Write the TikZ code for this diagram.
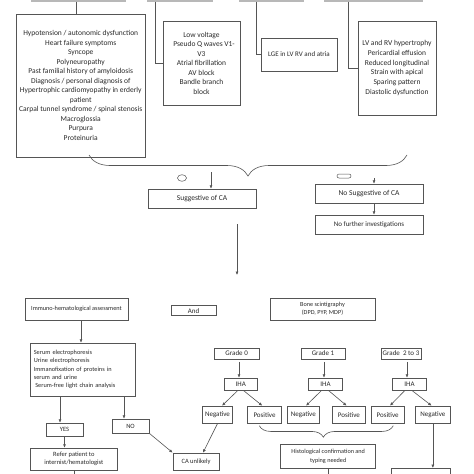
\documentclass[tikz,border=0pt]{standalone}
\usepackage{fontspec}
\setmainfont{Carlito}
\usetikzlibrary{arrows.meta,decorations.pathreplacing,calc}
\definecolor{boxgray}{HTML}{555555}
\definecolor{txtgray}{HTML}{2A2A2A}
\definecolor{topgray}{HTML}{B8B8B8}
\newcommand{\fsz}[2]{\fontsize{#1}{#2}\selectfont}
\begin{document}
\begin{tikzpicture}[x=1pt,y=-1pt,
  box/.style={draw=boxgray,line width=0.6pt,inner sep=0pt,align=center,text=txtgray},
  topbox/.style={draw=topgray,line width=1.2pt,inner sep=0pt},
  conn/.style={draw=boxgray,line width=0.6pt},
  arr/.style={conn,-{Latex[length=3.4pt,width=3pt]}},
  brc/.style={draw=boxgray,line width=0.6pt,decorate}]
\useasboundingbox (0,0) rectangle (474,474);
\clip (0,0) rectangle (474,474);
\fill[white] (0,0) rectangle (474,474);

% top boxes (cut off)
\node[topbox,minimum width=93pt,minimum height=21pt] (top1) at (78.5,-9.5) {};
\node[topbox,minimum width=64pt,minimum height=21pt] (top2) at (180,-9.5) {};
\node[topbox,minimum width=63pt,minimum height=21pt] (top3) at (271.5,-9.5) {};
\node[topbox,minimum width=97pt,minimum height=21pt] (top4) at (373.5,-9.5) {};

% clinical box
\node[box,minimum width=129.5pt,minimum height=143pt,font=\fsz{7.5}{9.5}] (big) at (80.75,85.5)
{Hypotension / autonomic dysfunction\\Heart failure symptoms\\Syncope\\Polyneuropathy\\Past familial history of amyloidosis\\Diagnosis / personal diagnosis of\\Hypertrophic cardiomyopathy in erderly\\patient\\Carpal tunnel syndrome / spinal stenosis\\Macroglossia\\Purpura\\Proteinuria};
% ECG box
\node[box,minimum width=77pt,minimum height=84pt,font=\fsz{7.5}{9.5}] (ecg) at (201.5,63)
{Low voltage\\\hspace*{5pt}Pseudo Q waves V1-\\V3\\Atrial fibrillation\\AV block\\Bandle branch\\block};
% LGE box
\node[box,minimum width=76pt,minimum height=33pt,font=\fsz{7}{8}] (lge) at (299,54.5) {LGE in LV RV and atria};
% Echo box
\node[box,minimum width=78pt,minimum height=94pt,font=\fsz{7.5}{9.7}] (echo) at (397,68)
{LV and RV hypertrophy\\Pericardial effusion\\Reduced longitudinal\\Strain with apical\\Sparing pattern\\Diastolic dysfunction};

\draw[conn] (76,0 |- top1.south) -- (76,0 |- big.north);
\draw[conn] (155,0 |- top2.south) |- (ecg.west);
\draw[conn] (256,0 |- top3.south) |- (lge.west);
\draw[conn] (348,0 |- top4.south) |- (echo.west);

% brace
\coordinate (br1a) at (89,155);
\coordinate (br1b) at (407,155);
\draw[brc,decoration={brace,mirror,amplitude=21pt,aspect=0.5}] (br1a) -- (br1b);

% stray shapes
\draw[boxgray,line width=0.5pt] (182,178) ellipse (4.5pt and 3.3pt);
\draw[boxgray,line width=0.5pt,rounded corners=2pt] (337,174) rectangle (351,178);

\node[box,minimum width=108pt,minimum height=19pt,font=\fsz{7.5}{8}] (sug) at (202,198.5) {Suggestive of CA};
\node[box,minimum width=108pt,minimum height=19pt,font=\fsz{7.5}{8}] (nosug) at (369,193.5) {No Suggestive of CA};
\node[box,minimum width=108pt,minimum height=19pt,font=\fsz{7}{8}] (nofur) at (369,224.5) {No further investigations};

\coordinate (s1) at (211,172);
\coordinate (s2) at (374,178);
\draw[arr] (s1) -- (s1 |- sug.north);
\draw[arr] (s2) -- (s2 |- nosug.north);
\draw[arr] (374,0 |- nosug.south) -- (374,0 |- nofur.north);

\coordinate (la1) at (237,224);
\coordinate (la2) at (237,275);
\draw[arr] (la1) -- (la2);

% second part
\node[box,minimum width=103pt,minimum height=22pt,font=\fsz{6.3}{7}] (immuno) at (76.5,309) {Immuno-hematological assessment};
\node[box,minimum width=45pt,minimum height=10pt,font=\fsz{7}{7}] (and) at (193.5,310.7) {And};
\node[box,minimum width=105pt,minimum height=22pt,font=\fsz{6.2}{8}] (bone) at (322.5,309) {Bone scintigraphy\\(DPD, PYP, MDP)};

\node[box,minimum width=105.7pt,minimum height=53pt,font=\fsz{6.3}{8.2},align=left,text width=98pt] (serum) at (82.85,369.5)
{Serum electrophoresis\\Urine electrophoresis\\Immanofixation of proteins in\\serum and urine\\\hspace*{1.5pt}Serum-free light chain analysis\\[2pt]};
\draw[arr] (81,0 |- immuno.south) -- (81,0 |- serum.north);

\node[box,minimum width=37pt,minimum height=13pt,font=\fsz{6.5}{7}] (yes) at (64.5,429.5) {YES};
\node[box,minimum width=37pt,minimum height=14pt,font=\fsz{6.5}{7}] (no) at (130.5,426) {NO};
\draw[arr] (60,0 |- serum.south) -- (60,0 |- yes.north);
\draw[arr] (124,0 |- serum.south) -- (124,0 |- no.north);

\node[box,minimum width=86.3pt,minimum height=22pt,font=\fsz{6.5}{7.8}] (refer) at (73.85,459) {Refer patient to\\internist/hematologist};
\draw[arr] (yes.south) -- (yes.south |- refer.north);
\coordinate (rb) at (73.85,480);
\draw[conn] (refer.south) -- (rb);

\node[box,minimum width=46pt,minimum height=17pt,font=\fsz{6.5}{7}] (caun) at (196,461.5) {CA unlikely};
\draw[arr] (no.south east) -- (caun.north west);

% grades
\node[box,minimum width=44.7pt,minimum height=11pt,font=\fsz{7}{7}] (g0) at (236.65,353.5) {Grade 0};
\node[box,minimum width=44pt,minimum height=11pt,font=\fsz{7}{7}] (g1) at (323,353.5) {Grade 1};
\node[box,minimum width=40pt,minimum height=11pt,font=\fsz{7}{7}] (g2) at (401,353.5) {Grade\ \ 2 to 3};

\node[box,minimum width=33.5pt,minimum height=12pt,font=\fsz{7}{7}] (iha1) at (240.75,384) {IHA};
\node[box,minimum width=34pt,minimum height=12pt,font=\fsz{7}{7}] (iha2) at (325.5,384) {IHA};
\node[box,minimum width=34pt,minimum height=12pt,font=\fsz{7}{7}] (iha3) at (409.5,384) {IHA};

\draw[arr,shorten <=2.5pt] (239,0 |- g0.south) -- (239,0 |- iha1.north);
\draw[arr,shorten <=2.5pt] (324,0 |- g1.south) -- (324,0 |- iha2.north);
\draw[arr,shorten <=2.5pt] (407,0 |- g2.south) -- (407,0 |- iha3.north);

\node[box,minimum width=30.4pt,minimum height=17.3pt,font=\fsz{7}{7}] (neg0) at (217.5,414.65) {Negative};
\node[box,minimum width=34.4pt,minimum height=17.3pt,font=\fsz{7}{7}] (pos1) at (264.5,414.65) {Positive};
\node[box,minimum width=32pt,minimum height=17.3pt,font=\fsz{7}{7}] (neg2) at (303.3,414.65) {Negative};
\node[box,minimum width=32.3pt,minimum height=17.3pt,font=\fsz{7}{7}] (pos2) at (348.85,414.65) {Positive};
\node[box,minimum width=33.3pt,minimum height=17.3pt,font=\fsz{7}{7}] (pos3) at (387.65,414.65) {Positive};
\node[box,minimum width=34.3pt,minimum height=17.3pt,font=\fsz{7}{7}] (neg3) at (432.85,414.65) {Negative};

\draw[arr] ($(iha1.south)+(-2.75,0)$) -- ($(neg0.north)+(4.5,0)$);
\draw[arr] ($(iha1.south)+(2.5,0)$) -- ($(pos1.north)+(-2.2,0)$);
\draw[arr] ($(iha2.south)+(-3.8,0)$) -- ($(neg2.north)+(2.7,0)$);
\draw[arr] ($(iha2.south)+(2.8,0)$) -- ($(pos2.north)+(-2.2,0)$);
\draw[arr] ($(iha3.south)+(-4.5,0)$) -- ($(pos3.north)+(2.3,0)$);
\draw[arr] ($(iha3.south)+(2.2,0)$) -- ($(neg3.north)+(-1.2,0)$);

\draw[arr] (neg0.south) -- (203,0 |- caun.north);

% brace 2
\coordinate (br2a) at (259.3,425.7);
\coordinate (br2b) at (393.3,425.7);
\draw[brc,decoration={brace,mirror,amplitude=11.5pt,aspect=0.478}] (br2a) -- (br2b);

\node[box,minimum width=95pt,minimum height=24pt,font=\fsz{6.2}{9}] (histo) at (328.2,456.3) {Histological confirmation and\\typing needed};
\coordinate (hb) at (328.2,480);
\draw[conn] (histo.south) -- (hb);

\node[box,minimum width=59.5pt,minimum height=20pt] (bot) at (420.75,478.3) {};
\draw[arr] (neg3.south) -- (neg3.south |- bot.north);
\end{tikzpicture}
\end{document}
